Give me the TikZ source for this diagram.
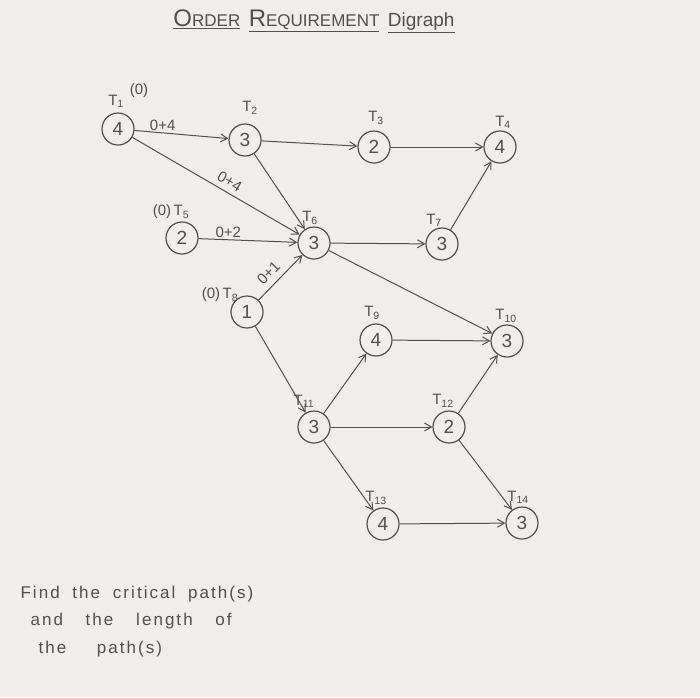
\documentclass[tikz,border=0pt]{standalone}
\usepackage{fontspec}
\setmainfont{Liberation Sans}
\usetikzlibrary{arrows.meta}
\definecolor{paper}{HTML}{EFEEEB}
\definecolor{pencil}{HTML}{505050}
\begin{document}
\begin{tikzpicture}[x=1pt,y=-1pt,
  task/.style={circle,draw=pencil,line width=1.2pt,minimum size=32pt,inner sep=0pt,font=\fontsize{19}{19}\selectfont,text=pencil},
  lbl/.style={font=\fontsize{15}{15}\selectfont,text=pencil},
  elbl/.style={font=\fontsize{15}{15}\selectfont,text=pencil,inner sep=2pt},
  conn/.style={draw=pencil,line width=1pt,-{Straight Barb[length=7pt,width=8pt]}},
  note/.style={font=\fontsize{17}{17}\selectfont\addfontfeature{LetterSpace=12},text=pencil,anchor=west}]
\fill[paper] (0,0) rectangle (700,697);
\useasboundingbox (0,0) rectangle (700,697);
% title
\node[text=pencil,font=\fontsize{17}{17}\selectfont] (title) at (314,21)
  {\underline{{\fontsize{24}{24}\selectfont O}RDER}\enspace\underline{{\fontsize{24}{24}\selectfont R}EQUIREMENT}\enspace\underline{{\fontsize{19}{19}\selectfont Digraph}}};
% tasks
\node[task] (t1) at (118,129) {4};
\node[task] (t2) at (245,140) {3};
\node[task] (t3) at (374,147) {2};
\node[task] (t4) at (500,147) {4};
\node[task] (t5) at (182,238) {2};
\node[task] (t6) at (314,243) {3};
\node[task] (t7) at (442,244) {3};
\node[task] (t8) at (247,312) {1};
\node[task] (t9) at (376,340) {4};
\node[task] (t10) at (507,341) {3};
\node[task] (t11) at (314,427) {3};
\node[task] (t12) at (449,427) {2};
\node[task] (t13) at (383,524) {4};
\node[task] (t14) at (522,523) {3};
% labels
\node[lbl] (l1) at (116,101) {T\textsubscript{1}};
\node[lbl] (l1b) at (139,91) {(0)};
\node[lbl] (l2) at (250,108) {T\textsubscript{2}};
\node[lbl] (l3) at (376,118) {T\textsubscript{3}};
\node[lbl] (l4) at (503,122) {T\textsubscript{4}};
\node[lbl] (l5) at (171,212) {(0)\,T\textsubscript{5}};
\node[lbl] (l6) at (310,218) {T\textsubscript{6}};
\node[lbl] (l7) at (434,220) {T\textsubscript{7}};
\node[lbl] (l8) at (220,295) {(0)\,T\textsubscript{8}};
\node[lbl] (l9) at (372,313) {T\textsubscript{9}};
\node[lbl] (l10) at (506,316) {T\textsubscript{10}};
\node[lbl] (l11) at (304,401) {T\textsubscript{11}};
\node[lbl] (l12) at (443,401) {T\textsubscript{12}};
\node[lbl] (l13) at (376,498) {T\textsubscript{13}};
\node[lbl] (l14) at (518,497) {T\textsubscript{14}};
% connectors
\draw[conn] (t1) -- node[elbl,above,pos=0.3] {0+4} (t2);
\draw[conn] (t1) -- node[elbl,above=3pt,sloped,pos=0.55] {0+4} (t6);
\draw[conn] (t2) -- (t3);
\draw[conn] (t2) -- (t6);
\draw[conn] (t3) -- (t4);
\draw[conn] (t5) -- node[elbl,above,pos=0.3] {0+2} (t6);
\draw[conn] (t8) -- node[elbl,above=4pt,sloped,pos=0.42] {0+1} (t6);
\draw[conn] (t6) -- (t7);
\draw[conn] (t7) -- (t4);
\draw[conn] (t6) -- (t10);
\draw[conn] (t8) -- (t11);
\draw[conn] (t11) -- (t9);
\draw[conn] (t9) -- (t10);
\draw[conn] (t11) -- (t12);
\draw[conn] (t12) -- (t10);
\draw[conn] (t11) -- (t13);
\draw[conn] (t12) -- (t14);
\draw[conn] (t13) -- (t14);
% note
\node[note] (n1) at (17,594) {Find\hspace{6pt} the\hspace{6pt} critical\hspace{6pt} path(s)};
\node[note] (n2) at (27,621) {and\hspace{16pt} the\hspace{16pt} length\hspace{16pt} of};
\node[note] (n3) at (35,649) {the\hspace{24pt} path(s)};
\end{tikzpicture}
\end{document}
